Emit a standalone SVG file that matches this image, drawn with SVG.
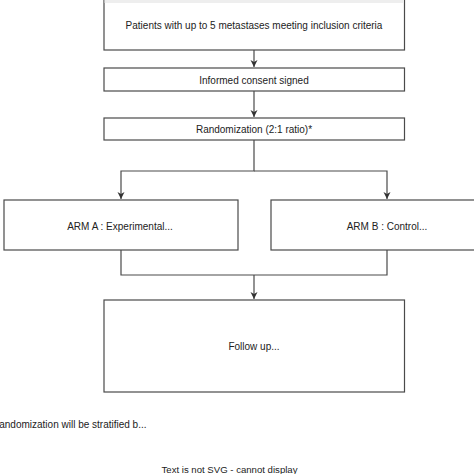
<svg xmlns="http://www.w3.org/2000/svg" width="474" height="474" viewBox="0 0 474 474">
<defs>
<style>
.box{fill:#fff;stroke:#4a4a4a;stroke-width:1.2}
.lbl{font-family:"Liberation Sans",Arial,sans-serif;font-size:10px;fill:#222;text-anchor:middle;dominant-baseline:central}
.edge{fill:none;stroke:#4a4a4a;stroke-width:1.2}
</style>
<marker id="arr" markerWidth="8" markerHeight="8" refX="7" refY="4" orient="auto" markerUnits="userSpaceOnUse">
<path d="M0,0.5 L7,4 L0,7.5 L2,4 Z" fill="#333"/>
</marker>
</defs>
<rect width="474" height="474" fill="#fff"/>
<g id="patients">
<rect class="box" x="104" y="-2" width="300.5" height="52"/>
<rect x="104.6" y="0" width="299.3" height="3" fill="#eee"/>
<text class="lbl" x="254" y="25">Patients with up to 5 metastases meeting inclusion criteria</text>
</g>
<g id="consent">
<rect class="box" x="104" y="68" width="300.5" height="23"/>
<text class="lbl" x="254" y="80">Informed consent signed</text>
</g>
<g id="randomization">
<rect class="box" x="104" y="118" width="300.5" height="22"/>
<text class="lbl" x="254" y="129">Randomization (2:1 ratio)*</text>
</g>
<g id="armA">
<rect class="box" x="4" y="200" width="234" height="50"/>
<text class="lbl" x="120" y="226">ARM A : Experimental...</text>
</g>
<g id="armB">
<rect class="box" x="271" y="200" width="210" height="50"/>
<text class="lbl" x="387" y="226">ARM B : Control...</text>
</g>
<g id="followup">
<rect class="box" x="104" y="300" width="300.5" height="92"/>
<text class="lbl" x="254" y="346">Follow up...</text>
</g>
<g id="note">
<text x="-8" y="424" style="font-family:'Liberation Sans',Arial,sans-serif;font-size:10px;fill:#222;dominant-baseline:central">Randomization will be stratified b...</text>
</g>
<g id="footer">
<text x="229.5" y="469" style="font-family:'Liberation Sans',Arial,sans-serif;font-size:9.6px;fill:#222;text-anchor:middle;dominant-baseline:central">Text is not SVG - cannot display</text>
</g>
<g id="connectors">
<path class="edge" d="M254,50 V67" marker-end="url(#arr)"/>
<path class="edge" d="M254,91 V117" marker-end="url(#arr)"/>
<path class="edge" d="M254,140 V171 H121 V199" marker-end="url(#arr)"/>
<path class="edge" d="M254,171 H387 V199" marker-end="url(#arr)"/>
<path class="edge" d="M121,250 V275 H387 V250"/>
<path class="edge" d="M254,275 V299" marker-end="url(#arr)"/>
</g>
</svg>
